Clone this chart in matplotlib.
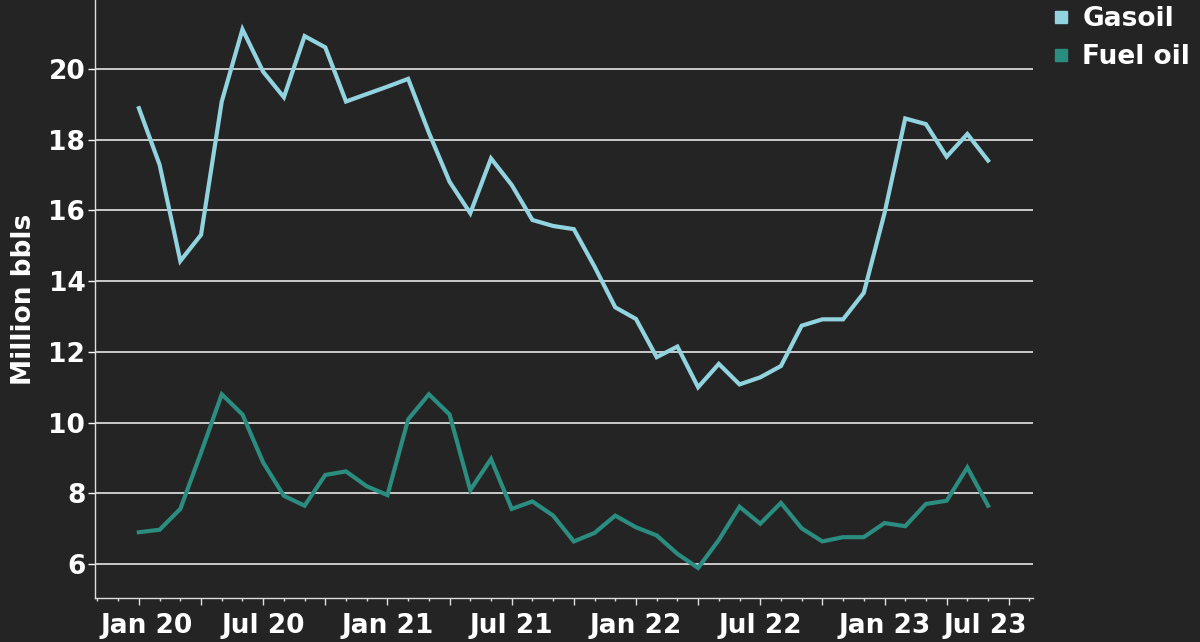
import numpy as np
import matplotlib
matplotlib.use("Agg")
import matplotlib.pyplot as plt
import matplotlib.transforms as mtransforms
from matplotlib.lines import Line2D

# monthly stocks, Jan 2020 - Jun 2023 (million bbls)
months = ["Jan 20", "Feb 20", "Mar 20", "Apr 20", "May 20", "Jun 20",
          "Jul 20", "Aug 20", "Sep 20", "Oct 20", "Nov 20", "Dec 20",
          "Jan 21", "Feb 21", "Mar 21", "Apr 21", "May 21", "Jun 21",
          "Jul 21", "Aug 21", "Sep 21", "Oct 21", "Nov 21", "Dec 21",
          "Jan 22", "Feb 22", "Mar 22", "Apr 22", "May 22", "Jun 22",
          "Jul 22", "Aug 22", "Sep 22", "Oct 22", "Nov 22", "Dec 22",
          "Jan 23", "Feb 23", "Mar 23", "Apr 23", "May 23", "Jun 23"]

gasoil = [18.89, 17.29, 14.57, 15.31, 19.08, 21.12, 19.92, 19.20, 20.93, 20.61,
          19.08, 19.29, 19.50, 19.72, 18.20, 16.81, 15.92, 17.47, 16.72, 15.73,
          15.56, 15.47, 14.41, 13.26, 12.93, 11.85, 12.15, 11.00, 11.66, 11.08,
          11.28, 11.60, 12.74, 12.92, 12.92, 13.67, 15.92, 18.60, 18.44, 17.52,
          18.16, 17.41]

fuel_oil = [6.90, 6.97, 7.56, 9.15, 10.80, 10.23, 8.87, 7.93, 7.65, 8.52,
            8.62, 8.20, 7.95, 10.09, 10.80, 10.23, 8.09, 8.97, 7.56, 7.77,
            7.37, 6.64, 6.88, 7.37, 7.04, 6.81, 6.29, 5.89, 6.68, 7.62,
            7.14, 7.73, 7.01, 6.64, 6.76, 6.76, 7.16, 7.07, 7.70, 7.79,
            8.73, 7.65]

tick_labels = ["Jan 20", "Jul 20", "Jan 21", "Jul 21", "Jan 22", "Jul 22", "Jan 23", "Jul 23"]

BG = "#252424"
GAS_COL = "#92d3e0"
FUEL_COL = "#2b8c80"
FG = "white"

plt.rcParams['font.family'] = ['DejaVu Sans']
plt.rcParams['font.weight'] = 'bold'

fig = plt.figure(figsize=(12, 6.42), dpi=100, facecolor=BG)
ax = fig.add_axes([95 / 1200, 44 / 642, (1033 - 95) / 1200, 598 / 642])
ax.set_facecolor(BG)

x = np.arange(len(months))
ax.plot(x, gasoil, color=GAS_COL, lw=3, solid_joinstyle='miter', label='Gasoil')
ax.plot(x, fuel_oil, color=FUEL_COL, lw=3, solid_joinstyle='miter', label='Fuel oil')

ax.set_xlim(-2.12, 43.17)
ax.set_ylim(5.04, 21.95)

# y axis
ax.set_yticks(range(6, 21, 2))
ax.grid(axis='y', color='#e6e6e6', lw=1.2)
ax.set_axisbelow(True)
ax.tick_params(axis='y', colors=FG, labelsize=19, length=5, width=1, pad=2)
ax.set_ylabel("Million bbls", color=FG, fontsize=19, fontweight='bold', labelpad=8)

# x axis: major tick every quarter, minor monthly, labels every half year
ax.set_xticks(np.arange(0, 43, 3))
ax.set_xticks(np.arange(-2, 44, 1), minor=True)
ax.set_xticklabels([tick_labels[i // 2] if i % 2 == 0 else "" for i in range(15)])
ax.tick_params(axis='x', which='major', colors='#dddddd', labelcolor=FG,
               labelsize=19, length=5, width=1, pad=6)
ax.tick_params(axis='x', which='minor', colors='#dddddd', length=2.5, width=1)

labs = [l for l in ax.get_xticklabels() if l.get_text()]
shift = {0: 8, len(labs) - 1: -24}
for i, dx in shift.items():
    off = mtransforms.ScaledTranslation(dx / 100, 0, fig.dpi_scale_trans)
    labs[i].set_transform(labs[i].get_transform() + off)

for s in ['top', 'right']:
    ax.spines[s].set_visible(False)
for s in ['left', 'bottom']:
    ax.spines[s].set_color('#dddddd')
    ax.spines[s].set_linewidth(1)

handles = [Line2D([], [], ls='none', marker='s', ms=9, color=GAS_COL),
           Line2D([], [], ls='none', marker='s', ms=9, color=FUEL_COL)]
fig.legend(handles, ['Gasoil', 'Fuel oil'], loc='upper left',
           bbox_to_anchor=(1048 / 1200, 1 - 6 / 642), frameon=False,
           borderpad=0, borderaxespad=0,
           labelcolor=FG, prop={'size': 19, 'weight': 'bold'},
           handletextpad=0.3, labelspacing=0.45, handlelength=1.0)

fig.savefig("out.png", dpi=100, facecolor=BG)
